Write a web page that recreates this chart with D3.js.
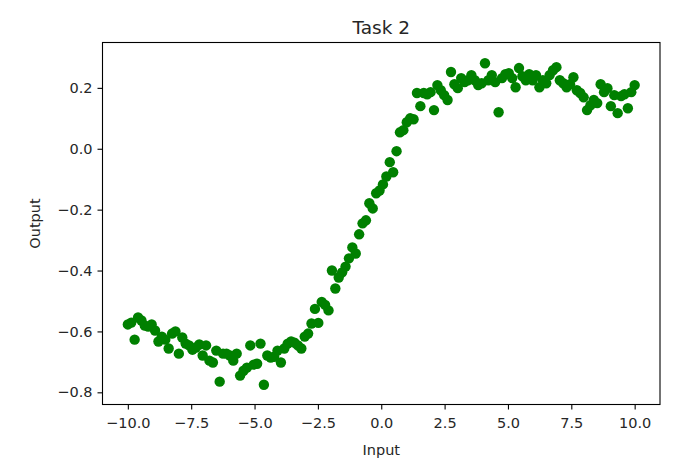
<!DOCTYPE html>
<html>
<head>
<meta charset="utf-8">
<script src="https://cdn.jsdelivr.net/npm/d3@7"></script>
<style>
  html, body { margin: 0; padding: 0; background: #fff; }
  #chart { width: 679px; height: 473px; }
  text { font-family: "DejaVu Sans", sans-serif; fill: #262626; }
</style>
</head>
<body>
<div id="chart"></div>
<script>
// ====== data ======
const inputs = [
  -10.000, -9.866, -9.732, -9.597, -9.463, -9.329, -9.195, -9.060, -8.926, -8.792,
  -8.658, -8.523, -8.389, -8.255, -8.121, -7.987, -7.852, -7.718, -7.584, -7.450,
  -7.315, -7.181, -7.047, -6.913, -6.779, -6.644, -6.510, -6.376, -6.242, -6.107,
  -5.973, -5.839, -5.705, -5.570, -5.436, -5.302, -5.168, -5.034, -4.899, -4.765,
  -4.631, -4.497, -4.362, -4.228, -4.094, -3.960, -3.826, -3.691, -3.557, -3.423,
  -3.289, -3.154, -3.020, -2.886, -2.752, -2.617, -2.483, -2.349, -2.215, -2.081,
  -1.946, -1.812, -1.678, -1.544, -1.409, -1.275, -1.141, -1.007, -0.872, -0.738,
  -0.604, -0.470, -0.336, -0.201, -0.067, 0.067, 0.201, 0.336, 0.470, 0.604,
  0.738, 0.872, 1.007, 1.141, 1.275, 1.409, 1.544, 1.678, 1.812, 1.946,
  2.081, 2.215, 2.349, 2.483, 2.617, 2.752, 2.886, 3.020, 3.154, 3.289,
  3.423, 3.557, 3.691, 3.826, 3.960, 4.094, 4.228, 4.362, 4.497, 4.631,
  4.765, 4.899, 5.034, 5.168, 5.302, 5.436, 5.570, 5.705, 5.839, 5.973,
  6.107, 6.242, 6.376, 6.510, 6.644, 6.779, 6.913, 7.047, 7.181, 7.315,
  7.450, 7.584, 7.718, 7.852, 7.987, 8.121, 8.255, 8.389, 8.523, 8.658,
  8.792, 8.926, 9.060, 9.195, 9.329, 9.463, 9.597, 9.732, 9.866, 10.000
];

const outputs = [
  -0.577, -0.571, -0.627, -0.554, -0.564, -0.581, -0.584, -0.577, -0.597, -0.633,
  -0.617, -0.627, -0.656, -0.607, -0.600, -0.673, -0.620, -0.640, -0.646, -0.660,
  -0.653, -0.643, -0.679, -0.646, -0.696, -0.702, -0.663, -0.765, -0.673, -0.673,
  -0.679, -0.696, -0.673, -0.745, -0.729, -0.719, -0.646, -0.709, -0.706, -0.640,
  -0.775, -0.679, -0.686, -0.683, -0.663, -0.702, -0.656, -0.640, -0.633, -0.637,
  -0.646, -0.656, -0.617, -0.607, -0.574, -0.526, -0.572, -0.503, -0.513, -0.531,
  -0.400, -0.459, -0.423, -0.406, -0.387, -0.360, -0.324, -0.344, -0.281, -0.245,
  -0.235, -0.179, -0.196, -0.146, -0.137, -0.117, -0.091, -0.044, -0.077, -0.008,
  0.054, 0.061, 0.087, 0.100, 0.097, 0.183, 0.140, 0.183, 0.179, 0.186,
  0.127, 0.209, 0.192, 0.176, 0.160, 0.252, 0.212, 0.199, 0.232, 0.219,
  0.225, 0.242, 0.225, 0.209, 0.215, 0.281, 0.225, 0.242, 0.219, 0.120,
  0.232, 0.245, 0.248, 0.232, 0.202, 0.265, 0.238, 0.225, 0.245, 0.225,
  0.242, 0.202, 0.225, 0.215, 0.242, 0.258, 0.268, 0.225, 0.215, 0.202,
  0.212, 0.235, 0.192, 0.183, 0.169, 0.127, 0.143, 0.160, 0.150, 0.212,
  0.186, 0.199, 0.140, 0.176, 0.117, 0.173, 0.179, 0.133, 0.186, 0.209
];

const xTicks = [-10, -7.5, -5, -2.5, 0, 2.5, 5, 7.5, 10];
const yTicks = [-0.8, -0.6, -0.4, -0.2, 0.0, 0.2];
const xDomain = [-11, 11];
const yDomain = [-0.840, 0.349];

const chartTitle = "Task 2";
const xTitle = "Input";
const yTitle = "Output";

// ====== chart ======
class ScatterChart {
  constructor(id) {
    this.id = id;
    this.points = inputs.map((x, i) => ({ x: x, y: outputs[i] }));
    this.initSVG();
    this.initScales();
    this.drawAxes();
    this.drawPoints();
    this.drawLabels();
  }

  initSVG() {
    const div = d3.select(`#${this.id}`);
    this.width  = 679;
    this.height = 473;
    this.margin = { top: 42.5, right: 19, bottom: 68.5, left: 102.5 };
    this.innerWidth  = this.width  - this.margin.left - this.margin.right;
    this.innerHeight = this.height - this.margin.top  - this.margin.bottom;

    this.svg = div.append("svg")
      .attr("width",  this.width)
      .attr("height", this.height);

    this.svg.append("defs").append("clipPath")
      .attr("id", "plot-clip")
      .append("rect")
        .attr("width", this.innerWidth)
        .attr("height", this.innerHeight);

    this.g = this.svg.append("g")
      .attr("transform", `translate(${this.margin.left},${this.margin.top})`);
  }

  initScales() {
    this.x = d3.scaleLinear().domain(xDomain).range([0, this.innerWidth]);
    this.y = d3.scaleLinear().domain(yDomain).range([this.innerHeight, 0]);
  }

  drawAxes() {
    const xAxis = d3.axisBottom(this.x)
      .tickValues(xTicks)
      .tickFormat(d3.format(".1f"))
      .tickSizeInner(5)
      .tickSizeOuter(0)
      .tickPadding(5);

    const yAxis = d3.axisLeft(this.y)
      .tickValues(yTicks)
      .tickFormat(d3.format(".1f"))
      .tickSizeInner(5)
      .tickSizeOuter(0)
      .tickPadding(5);

    const gx = this.g.append("g")
      .attr("transform", `translate(0,${this.innerHeight})`)
      .call(xAxis);
    const gy = this.g.append("g").call(yAxis);

    [gx, gy].forEach(a => {
      a.select(".domain").remove();
      a.selectAll(".tick line").attr("stroke", "#000").attr("stroke-width", 1.1);
      a.selectAll(".tick text")
        .attr("fill", "#262626")
        .style("font-family", "'DejaVu Sans', sans-serif")
        .style("font-size", "14.5px");
    });
    gx.selectAll(".tick text").attr("dy", "0.95em");

    // frame (all four spines)
    this.g.append("rect")
      .attr("width", this.innerWidth)
      .attr("height", this.innerHeight)
      .attr("fill", "none")
      .attr("stroke", "#000")
      .attr("stroke-width", 1.1);
  }

  drawPoints() {
    this.g.append("g")
      .attr("clip-path", "url(#plot-clip)")
      .selectAll("circle")
      .data(this.points)
      .join("circle")
      .attr("cx", d => this.x(d.x))
      .attr("cy", d => this.y(d.y))
      .attr("r", 5.2)
      .attr("fill", "#008000");
  }

  drawLabels() {
    const cx = this.margin.left + this.innerWidth / 2;
    const cy = this.margin.top + this.innerHeight / 2;

    this.svg.append("text")
      .attr("x", cx)
      .attr("y", 34)
      .attr("text-anchor", "middle")
      .style("font-size", "18.5px")
      .text(chartTitle);

    this.svg.append("text")
      .attr("x", cx)
      .attr("y", 455)
      .attr("text-anchor", "middle")
      .style("font-size", "14.5px")
      .text(xTitle);

    this.svg.append("text")
      .attr("transform", `translate(40,${cy}) rotate(-90)`)
      .attr("text-anchor", "middle")
      .style("font-size", "14.5px")
      .text(yTitle);
  }
}

new ScatterChart("chart");
</script>
</body>
</html>
